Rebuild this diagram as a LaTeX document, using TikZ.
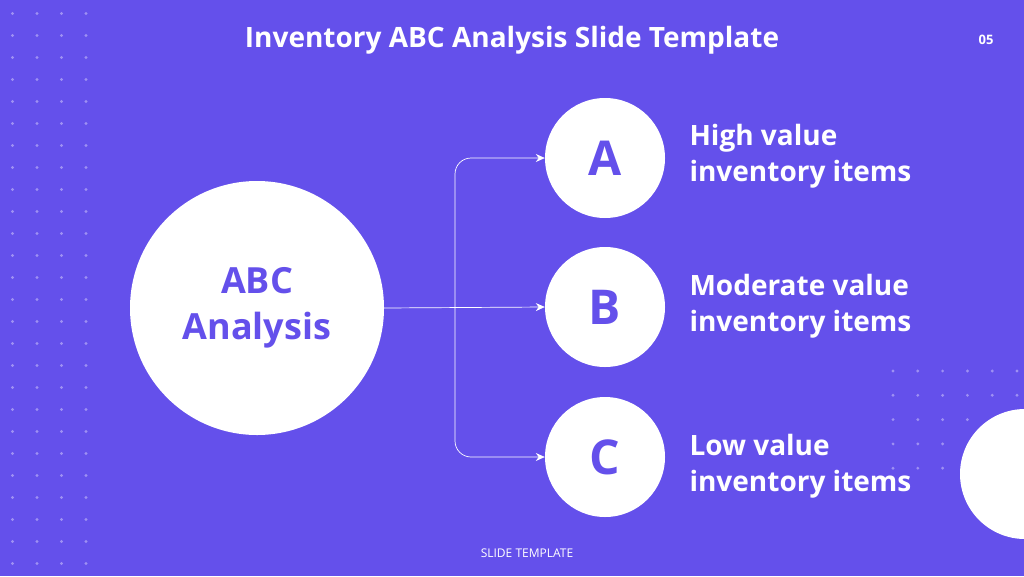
\documentclass[tikz,border=0pt]{standalone}
\usepackage{fontspec}
\setmainfont{Open Sans}
\usetikzlibrary{arrows.meta}
\definecolor{slidebg}{HTML}{6450EB}
\definecolor{dotcol}{HTML}{9E90F3}
\tikzset{
  disc/.style = {circle, fill=white, inner sep=0pt},
  letter/.style = {disc, minimum size=120pt, text=slidebg, font=\bfseries\fontsize{48}{52}\selectfont},
  caption/.style = {anchor=west, align=left, text=white, font=\bfseries\fontsize{28}{36}\selectfont},
  link/.style = {white, line width=0.7pt, -{Stealth[length=9pt,width=8pt]}}
}
\begin{document}
\begin{tikzpicture}[x=1pt, y=-1pt]
\fill[slidebg] (0,0) rectangle (1024,576);
\useasboundingbox (0,0) rectangle (1024,576);
% dot grid on the left
\foreach \i in {0,...,3}
  \foreach \j in {0,...,25}
    \fill[dotcol] (12.5+24.5*\i, 13.5+22*\j) circle (1.6pt);
% dot grid on the right
\foreach \i/\n in {0/6,1/6,2/4,3/3,4/3}
  \foreach \k in {1,...,\n}
    \fill[dotcol] (893+24.8*\k-24.8, 371+24.3*\i) circle (1.6pt);
\node[disc, minimum size=130pt] (corner) at (1025,474) {};
% title
\node[text=white, font=\bfseries\fontsize{28}{32}\selectfont] (title) at (512,40) {Inventory ABC Analysis Slide Template};
\node[text=white, font=\bfseries\fontsize{13}{15}\selectfont] (page) at (986,40) {05};
\node[text=white, font=\fontsize{12}{14}\selectfont] (footer) at (527,553) {SLIDE TEMPLATE};
% main circle and classes
\node[disc, minimum size=254pt, text=slidebg, align=center, font=\bfseries\fontsize{36}{46}\selectfont] (abc) at (257,308) {ABC\\Analysis};
\node[letter] (a) at (605,158) {A};
\node[letter] (b) at (605,307) {B};
\node[letter] (c) at (605,457) {C};
\node[caption] (ta) at (686,156) {High value\\inventory items};
\node[caption] (tb) at (686,306) {Moderate value\\inventory items};
\node[caption] (tc) at (686,466) {Low value\\inventory items};
% connectors
\coordinate (fork) at (455,308);
\draw[link] (abc.east |- fork) -- (b.west);
\draw[link, rounded corners=16pt] (fork) |- (a.west);
\draw[link, rounded corners=16pt] (fork) |- (c.west);
\end{tikzpicture}
\end{document}
